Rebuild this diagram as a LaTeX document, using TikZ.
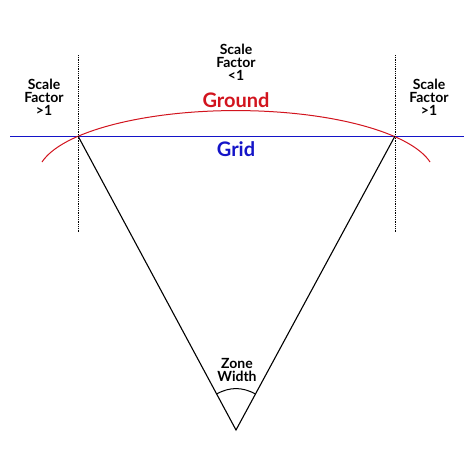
\documentclass[tikz,border=0pt]{standalone}
\usepackage{fontspec}
\setmainfont{Lato}
\usetikzlibrary{calc}
\definecolor{gred}{RGB}{210,20,30}
\definecolor{gblue}{RGB}{20,20,200}
\begin{document}
\begin{tikzpicture}[x=1pt,y=-1pt,
  lbl/.style={font=\bfseries\fontsize{14}{13.2}\selectfont, align=center, inner sep=0pt},
  big/.style={font=\bfseries\fontsize{20}{20}\selectfont, inner sep=0pt},
  dotline/.style={densely dotted, line width=0.8pt},
  edge/.style={line width=1.1pt}]
\useasboundingbox[fill=white] (0,0) rectangle (474,474);
\coordinate (L) at (78,136);
\coordinate (R) at (395,136);
\coordinate (A) at (236,430);
\coordinate (Lt) at (78,55);
\coordinate (Lb) at (78,233);
\coordinate (Rt) at (395,55);
\coordinate (Rb) at (395,233);
\coordinate (G1) at (10,136);
\coordinate (G2) at (464,136);
% dotted verticals
\draw[dotline] (Lt) -- (Lb);
\draw[dotline] (Rt) -- (Rb);
% grid line
\draw[gblue, line width=1pt] (G1) -- (G2);
% ground arc (ellipse)
\coordinate (Gs) at (42,162);
\draw[gred, line width=1pt] (Gs) arc[start angle=192.2, end angle=347.8, x radius=198.5, y radius=65.2];
% triangle
\draw[edge] (L) -- (A) -- (R);
% zone width arc
\coordinate (Z1) at ($(A)!41pt!(L)$);
\coordinate (Z2) at ($(A)!41pt!(R)$);
\draw[line width=1pt] (Z1) to[bend left=28] (Z2);
% labels
\node[lbl] (sc) at (236,62) {Scale\\Factor\\<1};
\node[lbl] (sl) at (44,97) {Scale\\Factor\\>1};
\node[lbl] (sr) at (429,97) {Scale\\Factor\\>1};
\node[big, text=gred] (gr) at (236,100) {Ground};
\node[big, text=gblue] (gd) at (236,149) {Grid};
\node[lbl] (zw) at (237,370) {Zone\\Width};
\end{tikzpicture}
\end{document}
